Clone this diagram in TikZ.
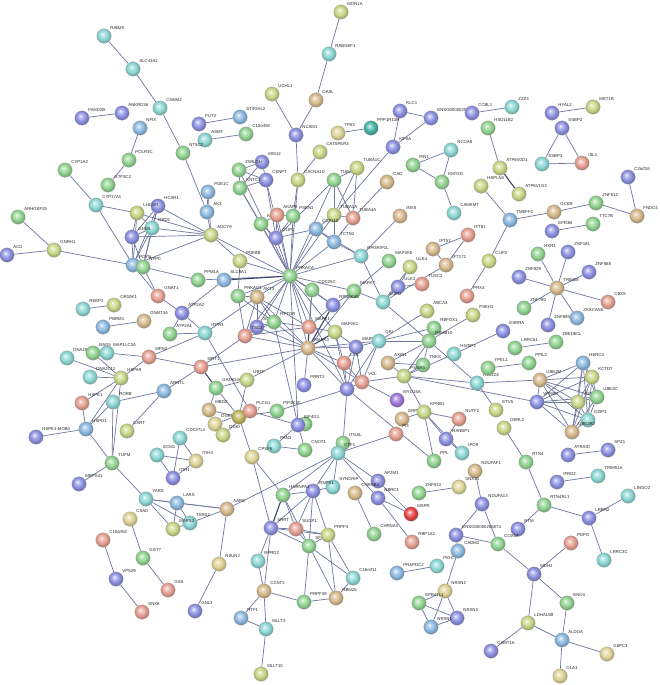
\documentclass[tikz,border=0pt]{standalone}
\usepackage{fontspec}
\newfontfamily\lblfont{Liberation Sans}
\usetikzlibrary{calc}
\pgfdeclarelayer{back}
\pgfdeclarelayer{bg}
\pgfsetlayers{back,bg,main}
\definecolor{cg}{RGB}{145,212,145}
\definecolor{cyg}{RGB}{200,215,135}
\definecolor{cc}{RGB}{140,215,212}
\definecolor{cb}{RGB}{140,145,225}
\definecolor{cbl}{RGB}{140,185,225}
\definecolor{cs}{RGB}{230,160,145}
\definecolor{ct}{RGB}{215,185,140}
\definecolor{cy}{RGB}{222,212,150}
\definecolor{ctl}{RGB}{70,180,165}
\definecolor{cr}{RGB}{228,70,70}
\definecolor{cp}{RGB}{160,120,220}
\definecolor{col}{RGB}{190,180,90}
\definecolor{edgec}{RGB}{110,118,158}
\definecolor{edgek}{RGB}{62,70,112}
\colorlet{sbc}{cg}
\pgfdeclareradialshading[sbc]{sball}{\pgfpoint{-6bp}{7bp}}{color(0bp)=(sbc!10!white); color(6bp)=(sbc!55!white); color(16bp)=(sbc); color(24bp)=(sbc!82!black); color(28bp)=(sbc!65!black); color(50bp)=(sbc!65!black)}
\tikzset{
  gnode/.style={circle, minimum size=14.5pt, inner sep=0pt, shading=sball, draw=black!30, line width=0.2pt},
  lbl/.style={font=\lblfont\fontsize{4.3}{5}\selectfont, inner sep=0.3pt, text=black!85},
  ed/.style={draw=edgec, line width=0.7pt},
  edk/.style={draw=edgek, line width=1.1pt},
}
\newcommand\gn[5]{\colorlet{sbc}{#4}\node[gnode, label={[lbl,name=#1-l,label distance=1pt]45:#5}] (#1) at (#2,#3) {};}
\begin{document}
\begin{tikzpicture}[x=1pt,y=-1pt]
\begin{pgfonlayer}{back}
\fill[white] (0,0) rectangle (659,685);
\end{pgfonlayer}
\useasboundingbox (0,0) rectangle (659,685);
% ---------- nodes: left
\gn{RAB29}{104}{36}{cc}{RAB29}
\gn{SLC41A1}{133}{69}{cc}{SLC41A1}
\gn{CNNM2}{160}{108}{cc}{CNNM2}
\gn{FAHD2B}{82}{118}{cb}{FAHD2B}
\gn{ANKRD36}{122}{113}{cb}{ANKRD36}
\gn{NFIX}{140}{128}{cbl}{NFIX}
\gn{POLR3C}{129}{160}{cg}{POLR3C}
\gn{GTF3C2}{108}{185}{cg}{GTF3C2}
\gn{CYP1A2}{65}{170}{cg}{CYP1A2}
\gn{CYP17A1}{96}{205}{cc}{CYP17A1}
\gn{ARHGEF25}{18}{217}{cg}{ARHGEF25}
\gn{ACD}{7}{255}{cb}{ACD}
\gn{GNRH1}{54}{250}{cyg}{GNRH1}
\gn{FUT2}{199}{124}{cb}{FUT2}
\gn{ASMT}{205}{140}{cc}{ASMT}
\gn{NT5C2}{183}{153}{cg}{NT5C2}
\gn{ST3GAL2}{240}{117}{cbl}{ST3GAL2}
\gn{C10orf82}{246}{134}{cg}{C10orf82}
\gn{PDE1C}{208}{192}{cbl}{PDE1C}
\gn{AK3}{207}{212}{cbl}{AK3}
\gn{ADCY9}{211}{235}{cyg}{ADCY9}
\gn{HCAR1}{158}{206}{cb}{HCAR1}
\gn{LHCGR}{137}{213}{cyg}{LHCGR}
\gn{DRD2}{152}{228}{cc}{DRD2}
\gn{GNG5}{132}{237}{cb}{GNG5}
\gn{PDYN}{133}{265}{cbl}{PDYN}
\gn{NPPC}{143}{267}{cg}{NPPC}
\gn{GNAT1}{158}{296}{cs}{GNAT1}
\gn{ATP2A2}{182}{313}{cb}{ATP2A2}
\gn{ATP2A1}{170}{334}{cg}{ATP2A1}
\gn{ITPR3}{205}{333}{cc}{ITPR3}
\gn{PPM1A}{198}{280}{cg}{PPM1A}
\gn{SLC8A1}{224}{280}{cbl}{SLC8A1}
\gn{REEP2}{83}{309}{cc}{REEP2}
\gn{OR10K1}{114}{305}{cyg}{OR10K1}
\gn{PBRM1}{103}{327}{cbl}{PBRM1}
\gn{DNMT3A}{144}{321}{ct}{DNMT3A}
\gn{DNAJB6}{67}{358}{cc}{DNAJB6}
\gn{BAG5}{93}{353}{cg}{BAG5}
\gn{MAP1LC3A}{107}{353}{cc}{MAP1LC3A}
\gn{MFN2}{149}{357}{cs}{MFN2}
\gn{DNAJC11}{90}{377}{cc}{DNAJC11}
\gn{HSPA9}{121}{378}{cyg}{HSPA9}
\gn{HSPE1}{82}{403}{cs}{HSPE1}
\gn{RORB}{113}{402}{cc}{RORB}
\gn{HSPD1}{86}{429}{cbl}{HSPD1}
\gn{HSPE1MOB4}{36}{437}{cb}{HSPE1-MOB4}
\gn{ARNTL}{164}{391}{cbl}{ARNTL}
\gn{CART}{127}{431}{cyg}{CART}
\gn{SIRT1}{201}{367}{cs}{SIRT1}
\gn{GATAD2A}{216}{388}{cg}{GATAD2A}
\gn{MBD2}{209}{410}{ct}{MBD2}
\gn{DGKG}{215}{424}{cy}{DGKG}
\gn{DGKI}{223}{435}{cyg}{DGKI}
\gn{HDAC7}{239}{417}{col}{HDAC7}
\gn{PLCG1}{250}{411}{cs}{PLCG1}
\gn{UBTF}{247}{380}{cyg}{UBTF}
\gn{CDC37L1}{180}{438}{cc}{CDC37L1}
\gn{ECM1}{157}{455}{cc}{ECM1}
\gn{ITIH4}{196}{461}{cy}{ITIH4}
\gn{ITIH1}{173}{478}{cb}{ITIH1}
\gn{TUFM}{112}{463}{cg}{TUFM}
\gn{MRPS21}{79}{484}{cb}{MRPS21}
\gn{YARS}{146}{499}{cc}{YARS}
\gn{LARS}{177}{503}{cbl}{LARS}
\gn{TARS2}{190}{523}{cc}{TARS2}
\gn{MARS2}{173}{529}{cyg}{MARS2}
\gn{AARS}{227}{509}{ct}{AARS}
\gn{CSAD}{130}{519}{cy}{CSAD}
\gn{GGT7}{143}{558}{cg}{GGT7}
\gn{GSS}{168}{590}{cs}{GSS}
\gn{C10orf62}{103}{540}{cs}{C10orf62}
\gn{VPS29}{116}{579}{cb}{VPS29}
\gn{SNX8}{142}{612}{cs}{SNX8}
\gn{NSUN2}{219}{564}{cy}{NSUN2}
\gn{GNL3}{195}{611}{cb}{GNL3}
% ---------- nodes: centre
\gn{MON1A}{341}{12}{cyg}{MON1A}
\gn{RABGEF1}{329}{54}{cc}{RABGEF1}
\gn{OASL}{316}{100}{ct}{OASL}
\gn{UCHL1}{272}{94}{cyg}{UCHL1}
\gn{NCAM1}{296}{135}{cb}{NCAM1}
\gn{TP53}{338}{133}{cy}{TP53}
\gn{PPP1R13B}{371}{128}{ctl}{PPP1R13B}
\gn{CATSPER3}{320}{152}{cyg}{CATSPER3}
\gn{KLC1}{400}{111}{cb}{KLC1}
\gn{ENSGa}{431}{118}{cb}{ENSG00000258480}
\gn{KIF5A}{393}{147}{cb}{KIF5A}
\gn{MIS12}{262}{162}{cb}{MIS12}
\gn{ZWILCH}{239}{170}{cg}{ZWILCH}
\gn{CENPT}{266}{180}{cb}{CENPT}
\gn{KNTC1}{240}{188}{cg}{KNTC1}
\gn{CACNA1D}{298}{180}{cyg}{CACNA1D}
\gn{TUBA1B}{334}{180}{cg}{TUBA1B}
\gn{TUBA1C}{357}{168}{cyg}{TUBA1C}
\gn{CAD}{387}{182}{ct}{CAD}
\gn{KDM3B}{261}{224}{cg}{KDM3B}
\gn{AKAP9}{277}{215}{cs}{AKAP9}
\gn{PSEN1}{293}{216}{cg}{PSEN1}
\gn{TUBA1A}{334}{215}{cyg}{TUBA1A}
\gn{TUBA4A}{353}{218}{cs}{TUBA4A}
\gn{INVS}{400}{216}{ct}{INVS}
\gn{CCP110}{316}{229}{cbl}{CCP110}
\gn{CLIP1}{276}{238}{cb}{CLIP1}
\gn{TCTN2}{334}{242}{cbl}{TCTN2}
\gn{RPGRIP1L}{361}{256}{cc}{RPGRIP1L}
\gn{PRKACA}{290}{276}{cg}{PRKACA}
\gn{PDE8B}{240}{261}{cyg}{PDE8B}
\gn{PRKAG1}{238}{296}{cg}{PRKAG1}
\gn{AKT3}{257}{297}{ct}{AKT3}
\gn{CDC25C}{312}{290}{cg}{CDC25C}
\gn{MAPK7}{354}{291}{cg}{MAPK7}
\gn{RPS6KA5}{333}{305}{cb}{RPS6KA5}
\gn{SCN5B}{257}{327}{cb}{SCN5B}
\gn{RPTOR}{274}{322}{cg}{RPTOR}
\gn{TSC2}{245}{336}{cs}{TSC2}
\gn{MAPK1}{309}{327}{cs}{MAPK1}
\gn{MAPK3}{308}{348}{ct}{MAPK3}
\gn{MAP2K1}{335}{332}{cyg}{MAP2K1}
\gn{MARK3}{356}{347}{cb}{MARK3}
\gn{QKI}{379}{341}{cc}{QKI}
\gn{LCK}{344}{363}{cs}{LCK}
\gn{ITGB7}{347}{389}{cb}{ITGB7}
\gn{VCL}{362}{382}{cs}{VCL}
\gn{PRRT2}{304}{385}{cb}{PRRT2}
\gn{PIP4K2C}{277}{411}{cg}{PIP4K2C}
\gn{EIF4G2}{305}{424}{cg}{}
\gn{EIF4G1}{298}{425}{cb}{EIF4G1}
\gn{PAN3}{274}{446}{cc}{PAN3}
\gn{CPSF6}{252}{457}{cy}{CPSF6}
\gn{CNOT1}{305}{450}{cg}{CNOT1}
\gn{ITGAL}{343}{443}{cg}{ITGAL}
\gn{CTF1}{338}{453}{cc}{CTF1}
% ---------- nodes: right centre
\gn{PIN1}{413}{165}{cg}{PIN1}
\gn{NCOA6}{451}{150}{cc}{NCOA6}
\gn{KMT2D}{442}{182}{cg}{KMT2D}
\gn{CAMKMT}{454}{213}{cc}{CAMKMT}
\gn{MAP2K5}{389}{261}{cg}{MAP2K5}
\gn{ULK4}{410}{267}{cyg}{ULK4}
\gn{ULK3}{398}{287}{cb}{ULK3}
\gn{TUSC2}{422}{284}{cs}{TUSC2}
\gn{SUFU}{383}{302}{cc}{SUFU}
\gn{IFT57}{433}{249}{ct}{IFT57}
\gn{IFT172}{446}{265}{ct}{IFT172}
\gn{IFT81}{468}{235}{cs}{IFT81}
\gn{CLIP2}{489}{261}{cyg}{CLIP2}
\gn{PRX4}{467}{296}{cs}{PRX4}
\gn{ABCA3}{427}{311}{cyg}{ABCA3}
\gn{PSKH1}{473}{315}{cyg}{PSKH1}
\gn{RBFOX1}{434}{328}{cg}{RBFOX1}
\gn{PSMB10}{429}{341}{cg}{PSMB10}
\gn{AXIN1}{388}{363}{ct}{AXIN1}
\gn{TNKS}{423}{365}{cg}{TNKS}
\gn{PSMA5}{404}{376}{cyg}{PSMA5}
\gn{HIVEP2}{454}{354}{cc}{HIVEP2}
\gn{ESRRA}{503}{331}{cb}{ESRRA}
\gn{RWDD2}{477}{383}{cc}{RWDD2}
\gn{MYO15A}{397}{400}{cp}{MYO15A}
\gn{ERP44}{402}{419}{ct}{ERP44}
\gn{PI3}{396}{434}{cs}{PI3}
\gn{KPNB1}{424}{412}{cyg}{KPNB1}
\gn{NUTF2}{459}{419}{cs}{NUTF2}
\gn{RANBP1}{446}{439}{cb}{RANBP1}
\gn{IPO9}{462}{453}{cc}{IPO9}
\gn{PPL}{434}{461}{cg}{PPL}
\gn{ETV5}{496}{410}{cyg}{ETV5}
\gn{DERL2}{504}{428}{cyg}{DERL2}
\gn{YPEL1}{488}{368}{cg}{YPEL1}
\gn{PPIL2}{529}{363}{cg}{PPIL2}
\gn{LRRC61}{515}{348}{cg}{LRRC61}
\gn{ZBED6CL}{556}{342}{cg}{ZBED6CL}
% ---------- nodes: right
\gn{CCBL1}{472}{113}{cb}{CCBL1}
\gn{ZZZ3}{512}{107}{cc}{ZZZ3}
\gn{HYAL2}{552}{113}{cb}{HYAL2}
\gn{MST1R}{593}{107}{cyg}{MST1R}
\gn{SSBP2}{562}{128}{cb}{SSBP2}
\gn{SSBP3}{542}{164}{cc}{SSBP3}
\gn{ISL1}{582}{163}{cs}{ISL1}
\gn{HSD11B2}{488}{128}{cg}{HSD11B2}
\gn{ATP6V0D1}{500}{168}{cyg}{ATP6V0D1}
\gn{ATP6V1G3}{519}{194}{cyg}{ATP6V1G3}
\gn{HAPLN4}{481}{186}{cyg}{HAPLN4}
\gn{TMEFF2}{510}{220}{cbl}{TMEFF2}
\gn{GCKR}{554}{212}{ct}{GCKR}
\gn{ZNF512}{596}{203}{cg}{ZNF512}
\gn{C2orf16}{628}{177}{cb}{C2orf16}
\gn{FNDC4}{637}{216}{ct}{FNDC4}
\gn{EFR3B}{552}{231}{cb}{EFR3B}
\gn{TTC7B}{593}{224}{cg}{TTC7B}
\gn{HKR1}{538}{254}{cg}{HKR1}
\gn{ZNF181}{568}{252}{cb}{ZNF181}
\gn{ZNF829}{519}{277}{cb}{ZNF829}
\gn{TRIM28}{557}{288}{ct}{TRIM28}
\gn{ZNF568}{589}{272}{cb}{ZNF568}
\gn{ZNF780}{524}{308}{cg}{ZNF780}
\gn{CBX5}{608}{302}{cs}{CBX5}
\gn{ZKSCAN5}{577}{318}{cbl}{ZKSCAN5}
\gn{ZNF695}{548}{325}{cb}{ZNF695}
\gn{HERC4}{583}{363}{cbl}{HERC4}
\gn{KCTD7}{592}{377}{cyg}{KCTD7}
\gn{UBE2M}{540}{380}{ct}{UBE2M}
\gn{VPRBP}{537}{402}{cb}{VPRBP}
\gn{ASB15}{578}{402}{cyg}{ASB15}
\gn{UBE3C}{597}{397}{cg}{UBE3C}
\gn{DZIP3}{588}{420}{cc}{DZIP3}
\gn{UBE2R2}{572}{432}{ct}{UBE2R2}
\gn{ATRAID}{568}{455}{cb}{ATRAID}
\gn{SPZ1}{608}{450}{cb}{SPZ1}
\gn{RTN4}{526}{462}{cg}{RTN4}
\gn{IFRD2}{557}{482}{cb}{IFRD2}
\gn{TRIM51A}{598}{476}{cc}{TRIM51A}
\gn{LINGO2}{628}{496}{cc}{LINGO2}
\gn{RTN4RL1}{544}{505}{cg}{RTN4RL1}
\gn{LRRN2}{589}{518}{cb}{LRRN2}
\gn{LRRC3C}{604}{560}{cc}{LRRC3C}
\gn{NTM}{518}{529}{cb}{NTM}
\gn{COX5A}{498}{544}{cg}{COX5A}
\gn{NDUFAF1}{475}{471}{ct}{NDUFAF1}
\gn{SNX15}{459}{487}{cy}{SNX15}
\gn{NDUFA13}{482}{504}{cb}{NDUFA13}
\gn{ENSGb}{456}{535}{cb}{ENSG00000255874}
\gn{CADM2}{458}{551}{cbl}{CADM2}
\gn{PIGC}{437}{566}{cc}{PIGC}
\gn{NRXN2}{445}{591}{cy}{NRXN2}
\gn{NRXN3}{457}{618}{cb}{NRXN3}
\gn{NRXN1}{431}{627}{cbl}{NRXN1}
\gn{EPB41L1}{419}{603}{cg}{EPB41L1}
\gn{PRAPDC2}{397}{573}{cbl}{PRAPDC2}
\gn{MDH1}{534}{574}{cb}{MDH1}
\gn{PEPD}{571}{543}{cs}{PEPD}
\gn{ENO4}{567}{603}{cg}{ENO4}
\gn{LDHAL6B}{528}{623}{cyg}{LDHAL6B}
\gn{ALDOA}{562}{640}{cbl}{ALDOA}
\gn{G6PC3}{607}{654}{cy}{G6PC3}
\gn{OLA1}{560}{676}{cy}{OLA1}
\gn{CAMT1A}{491}{651}{cb}{CAMT1A}
% ---------- nodes: lower centre
\gn{ZNF513}{419}{493}{cg}{ZNF513}
\gn{AP2M1}{378}{481}{cb}{AP2M1}
\gn{NBRC1}{378}{498}{cb}{NBRC1}
\gn{MSPR}{411}{514}{cr}{MSPR}
\gn{RBP1A2}{412}{542}{cs}{RBP1A2}
\gn{CHRNB4}{355}{493}{ct}{CHRNB4}
\gn{CHRNA3}{374}{534}{cg}{CHRNA3}
\gn{SYNCRIP}{333}{487}{cc}{SYNCRIP}
\gn{RNPS1}{313}{491}{cb}{RNPS1}
\gn{HNRNPA1}{283}{495}{cg}{HNRNPA1}
\gn{SRRT}{271}{528}{cb}{SRRT}
\gn{SUGP1}{296}{529}{cs}{SUGP1}
\gn{SF3B1}{309}{546}{cg}{SF3B1}
\gn{PRPF3}{328}{535}{cyg}{PRPF3}
\gn{C16orf11}{353}{578}{cc}{C16orf11}
\gn{RBM25}{336}{598}{ct}{RBM25}
\gn{PRPF39}{304}{602}{cg}{PRPF39}
\gn{RPRD2}{258}{561}{cc}{RPRD2}
\gn{CCNT2}{264}{591}{ct}{CCNT2}
\gn{RTF1}{241}{618}{cbl}{RTF1}
\gn{MLLT3}{266}{629}{cc}{MLLT3}
\gn{MLLT10}{261}{674}{cyg}{MLLT10}
% ---------- edges
\begin{pgfonlayer}{bg}
\foreach \a/\b in {RAB29/SLC41A1, SLC41A1/CNNM2, CNNM2/NT5C2, NT5C2/AK3, FAHD2B/ANKRD36, NFIX/POLR3C, POLR3C/GTF3C2, CYP1A2/CYP17A1, CYP17A1/LHCGR, CYP17A1/PDYN, FUT2/ST3GAL2, ASMT/C10orf82, PDE1C/AK3, AK3/ADCY9, PDE1C/ADCY9,
 ADCY9/GNG5, ADCY9/DRD2, ADCY9/LHCGR, ADCY9/HCAR1, ADCY9/PDYN, ADCY9/PRKACA, ADCY9/PDE8B,
 GNG5/DRD2, GNG5/LHCGR, GNG5/HCAR1, GNG5/PDYN, GNG5/NPPC, DRD2/HCAR1, DRD2/PDYN, DRD2/NPPC, LHCGR/PDYN, HCAR1/PDYN, HCAR1/NPPC, LHCGR/DRD2, GNRH1/PDYN, GNRH1/ACD, GNRH1/ARHGEF25, NPPC/GNAT1, PDYN/GNAT1, NPPC/PPM1A,
 GNAT1/ATP2A2, ATP2A2/ATP2A1, ATP2A2/ITPR3, ATP2A1/ITPR3, ATP2A2/SLC8A1, PPM1A/PRKACA, ITPR3/PLCG1, ITPR3/MFN2, ITPR3/AKT3, REEP2/OR10K1, PBRM1/DNMT3A, MFN2/SIRT1, MFN2/HSPA9, MFN2/MAP1LC3A,
 HSPA9/DNAJC11, HSPA9/DNAJB6, HSPA9/BAG5, HSPA9/HSPE1, HSPA9/HSPD1, HSPA9/TUFM, BAG5/MAP1LC3A, HSPE1/HSPD1, HSPD1/HSPE1MOB4, HSPD1/TUFM, HSPD1/RORB, RORB/ARNTL, RORB/TUFM, ARNTL/SIRT1, ARNTL/CART, TUFM/MRPS21, TUFM/YARS,
 YARS/LARS, YARS/MARS2, YARS/TARS2, YARS/AARS, LARS/AARS, LARS/MARS2, LARS/TARS2, TARS2/AARS, MARS2/TARS2, AARS/NSUN2, NSUN2/GNL3, CSAD/GGT7, GGT7/GSS, C10orf62/VPS29, VPS29/SNX8, ECM1/ITIH4, ECM1/ITIH1, ITIH4/ITIH1, CDC37L1/ITIH1, CDC37L1/ITIH4,
 SIRT1/TSC2, SIRT1/MAPK3, GATAD2A/MBD2, GATAD2A/HDAC7, GATAD2A/UBTF, MBD2/HDAC7, DGKG/DGKI, DGKG/PLCG1, DGKI/PLCG1, HDAC7/PIP4K2C, PLCG1/EIF4G1, HDAC7/CPSF6, UBTF/MAPK3, UBTF/HDAC7,
 MON1A/RABGEF1, RABGEF1/OASL, OASL/NCAM1, UCHL1/NCAM1, NCAM1/CACNA1D, CATSPER3/CACNA1D, CACNA1D/PSEN1, TP53/PPP1R13B, KLC1/KIF5A, KLC1/ENSGa, ENSGa/KIF5A, KIF5A/TUBA1A,
 MIS12/ZWILCH, MIS12/CENPT, MIS12/KNTC1, ZWILCH/CENPT, ZWILCH/KNTC1, CENPT/KNTC1, CENPT/CLIP1, ZWILCH/PRKACA, KNTC1/PRKACA, KNTC1/KDM3B,
 TUBA1B/TUBA1C, TUBA1B/TUBA1A, TUBA1B/TUBA4A, TUBA1C/TUBA1A, TUBA1C/TUBA4A, TUBA1A/TUBA4A, TUBA1B/CLIP1, CAD/TUBA4A, TUBA1A/CCP110, TUBA1A/TCTN2, TUBA4A/TCTN2, CCP110/TCTN2, CCP110/RPGRIP1L, TCTN2/RPGRIP1L, INVS/RPGRIP1L, CCP110/CLIP1, CLIP1/KDM3B, CLIP1/AKAP9, CLIP1/PSEN1, KDM3B/AKAP9, AKAP9/PSEN1,
 PRKACA/PDE8B, PRKACA/PRKAG1, PRKACA/AKT3, PRKACA/CDC25C, PRKACA/MAPK7, PRKACA/RPS6KA5, PRKACA/MAPK3, PRKACA/MAPK1, PRKACA/TSC2, PRKACA/RPTOR, PRKACA/SCN5B, PRKACA/CLIP1, PRKACA/CCP110, PRKACA/TCTN2, PRKACA/RPGRIP1L, PRKACA/AKAP9, PRKACA/PSEN1, PRKACA/KDM3B, PRKACA/CENPT, PRKACA/CACNA1D, PRKACA/TUBA1A, PRKACA/TUBA1B, PRKACA/ITGB7, PRKACA/MAP2K1, PRKACA/EIF4G1,
 PDE8B/PRKAG1, PRKAG1/AKT3, PRKAG1/TSC2, PRKAG1/RPTOR, AKT3/TSC2, AKT3/RPTOR, AKT3/SCN5B, AKT3/MAPK1, AKT3/MAPK3, TSC2/RPTOR, TSC2/SCN5B, TSC2/MAPK1, TSC2/MAPK3, RPTOR/MAPK1, RPTOR/MAPK3, SCN5B/MAPK3, RPTOR/SCN5B,
 CDC25C/MAPK1, CDC25C/MAPK3, CDC25C/RPS6KA5, MAPK7/MAPK3, MAPK7/MAP2K5, MAPK7/SUFU, MAPK7/RPS6KA5, RPS6KA5/MAPK1, MAPK1/MAP2K1,
 MAPK3/MARK3, MAPK3/LCK, MAPK3/ITGB7, MAPK3/VCL, MAPK3/PRRT2, MAPK3/QKI, MAP2K1/MARK3, MAP2K1/LCK, MAP2K1/ITGB7, LCK/ITGB7, LCK/VCL, LCK/MARK3, MARK3/ITGB7, MARK3/VCL, VCL/ITGB7, QKI/VCL, QKI/ITGB7, QKI/MARK3,
 ITGB7/ITGAL, ITGB7/PIP4K2C, ITGB7/PPL, VCL/PSMA5, VCL/MYO15A,
 EIF4G1/PAN3, EIF4G1/CNOT1, PAN3/CNOT1, EIF4G1/EIF4G2, EIF4G1/RPTOR, CPSF6/HNRNPA1, CPSF6/SRRT,
 CTF1/ITGAL, CTF1/HNRNPA1, CTF1/RNPS1, CTF1/SYNCRIP, CTF1/AP2M1, CTF1/NBRC1, CTF1/PI3, AARS/CTF1,
 HNRNPA1/RNPS1, HNRNPA1/SUGP1, HNRNPA1/SF3B1, RNPS1/SRRT, RNPS1/SUGP1, RNPS1/SF3B1, RNPS1/PRPF3, SRRT/SUGP1, SRRT/SF3B1, SRRT/RPRD2, SRRT/CCNT2, SRRT/PRPF3, SUGP1/SF3B1, SUGP1/PRPF3, SF3B1/PRPF3, SF3B1/RBM25, SF3B1/PRPF39, SF3B1/C16orf11, PRPF3/RBM25, PRPF3/C16orf11, RBM25/PRPF39, RBM25/C16orf11, CCNT2/PRPF39, CCNT2/RPRD2, CCNT2/MLLT3, RTF1/MLLT3, RTF1/CCNT2, MLLT3/MLLT10, SYNCRIP/RNPS1,
 AP2M1/MSPR, NBRC1/MSPR, NBRC1/RBP1A2, CHRNB4/CHRNA3, ZNF513/SNX15,
 PIN1/NCOA6, PIN1/KMT2D, NCOA6/KMT2D, KMT2D/CAMKMT, ULK3/ULK4, ULK3/TUSC2, ULK3/SUFU, SUFU/ULK4, SUFU/RPGRIP1L, SUFU/PSMB10, SUFU/IFT172, IFT81/IFT57, IFT81/IFT172, IFT57/IFT172, TMEFF2/CLIP2, CLIP2/PRX4,
 ABCA3/QKI, QKI/RBFOX1, QKI/PSMB10, PSKH1/PSMB10, PSMB10/PSMA5, PSMB10/AXIN1, PSMB10/TNKS, PSMB10/RWDD2, AXIN1/TNKS, AXIN1/PSMA5, TNKS/PSMA5, HIVEP2/ESRRA, HIVEP2/PSMA5, RWDD2/UBE2M, RWDD2/ETV5, RWDD2/PSMA5, PSMA5/KPNB1, PSMA5/VPRBP,
 KPNB1/NUTF2, KPNB1/RANBP1, NUTF2/RANBP1, RANBP1/IPO9, KPNB1/IPO9, KPNB1/ERP44, KPNB1/PPL, YPEL1/PPIL2, LRRC61/ZBED6CL,
 CCBL1/ZZZ3, HYAL2/MST1R, SSBP2/SSBP3, SSBP2/ISL1, SSBP3/ISL1, HSD11B2/ATP6V0D1, HAPLN4/TMEFF2, TMEFF2/GCKR, GCKR/ZNF512, ZNF512/FNDC4, C2orf16/FNDC4, EFR3B/TTC7B,
 TRIM28/HKR1, TRIM28/ZNF181, TRIM28/ZNF829, TRIM28/ZNF568, TRIM28/ZNF780, TRIM28/CBX5, TRIM28/ZKSCAN5, TRIM28/ZNF695,
 UBE2M/VPRBP, UBE2M/HERC4, UBE2M/KCTD7, UBE2M/ASB15, UBE2M/UBE3C, UBE2M/DZIP3, UBE2M/UBE2R2,
 VPRBP/HERC4, VPRBP/KCTD7, VPRBP/ASB15, VPRBP/UBE3C, VPRBP/DZIP3, VPRBP/UBE2R2,
 HERC4/KCTD7, HERC4/ASB15, HERC4/UBE3C, HERC4/DZIP3, HERC4/UBE2R2,
 KCTD7/ASB15, KCTD7/UBE3C, KCTD7/DZIP3, KCTD7/UBE2R2, ASB15/UBE3C, ASB15/DZIP3, ASB15/UBE2R2, UBE3C/DZIP3, UBE3C/UBE2R2, DZIP3/UBE2R2,
 ATRAID/SPZ1, DERL2/RTN4, RTN4/RTN4RL1, RTN4RL1/NTM, RTN4RL1/LRRN2, LRRN2/LINGO2, LRRN2/LRRC3C, IFRD2/TRIM51A,
 COX5A/NDUFA13, COX5A/ENSGb, COX5A/MDH1, NDUFA13/NDUFAF1, NDUFA13/ENSGb, ENSGb/CADM2, CADM2/NRXN2, NRXN2/NRXN3, NRXN2/NRXN1, NRXN2/EPB41L1, NRXN3/EPB41L1, NRXN1/EPB41L1, NRXN1/NRXN3, PRAPDC2/PIGC,
 MDH1/PEPD, MDH1/ENO4, MDH1/LDHAL6B, ENO4/ALDOA, LDHAL6B/ALDOA, LDHAL6B/CAMT1A, ALDOA/G6PC3, ALDOA/OLA1}
 \draw[ed] (\a) -- (\b);
\foreach \a/\b in {SIRT1/GATAD2A, MAPK1/MAPK3, MAPK3/MAP2K1, ATP6V0D1/ATP6V1G3, PRKACA/SLC8A1, MAPK3/RPS6KA5, SRRT/HNRNPA1}
 \draw[edk] (\a) -- (\b);
\end{pgfonlayer}
\end{tikzpicture}
\end{document}
